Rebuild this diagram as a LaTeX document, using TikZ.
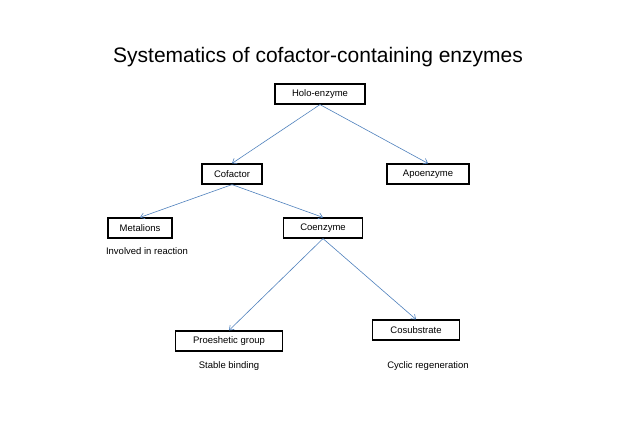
\documentclass[tikz,border=0pt]{standalone}
\usepackage{fontspec}
\setmainfont{Liberation Sans}
\usetikzlibrary{arrows.meta}
\begin{document}
\begin{tikzpicture}[x=1pt,y=-1pt,
 box/.style={draw=black,line width=1.2pt,fill=white,font=\fontsize{9.5}{11}\selectfont,minimum height=20pt,inner sep=0pt},
 lab/.style={font=\fontsize{9.5}{11}\selectfont},
 arr/.style={draw={rgb,255:red,79;green,129;blue,189},line width=0.6pt,-{Straight Barb[length=4pt,width=6pt]}}]
\useasboundingbox[fill=white] (0,0) rectangle (638,442);
\node[font=\fontsize{21}{25}\selectfont] (title) at (318,57) {Systematics of cofactor-containing enzymes};
\node[box,minimum width=90pt] (holo) at (320,94) {Holo-enzyme};
\node[box,minimum width=60pt] (cof) at (232,174) {Cofactor};
\node[box,minimum width=82pt] (apo) at (428,174) {Apoenzyme};
\node[box,minimum width=64pt] (met) at (140,228) {Metalions};
\node[box,minimum width=79pt] (coe) at (323,228) {Coenzyme};
\node[box,minimum width=107pt] (pro) at (229,341) {Proeshetic group};
\node[box,minimum width=87pt] (cos) at (416,330) {Cosubstrate};
\node[lab] (l1) at (147,251) {Involved in reaction};
\node[lab] (l2) at (229,366) {Stable binding};
\node[lab] (l3) at (428,366) {Cyclic regeneration};
\draw[arr] (holo.south) -- (cof.north);
\draw[arr] (holo.south) -- (apo.north);
\draw[arr] (cof.south) -- (met.north);
\draw[arr] (cof.south) -- (coe.north);
\draw[arr] (coe.south) -- (pro.north);
\draw[arr] (coe.south) -- (cos.north);
\end{tikzpicture}
\end{document}
